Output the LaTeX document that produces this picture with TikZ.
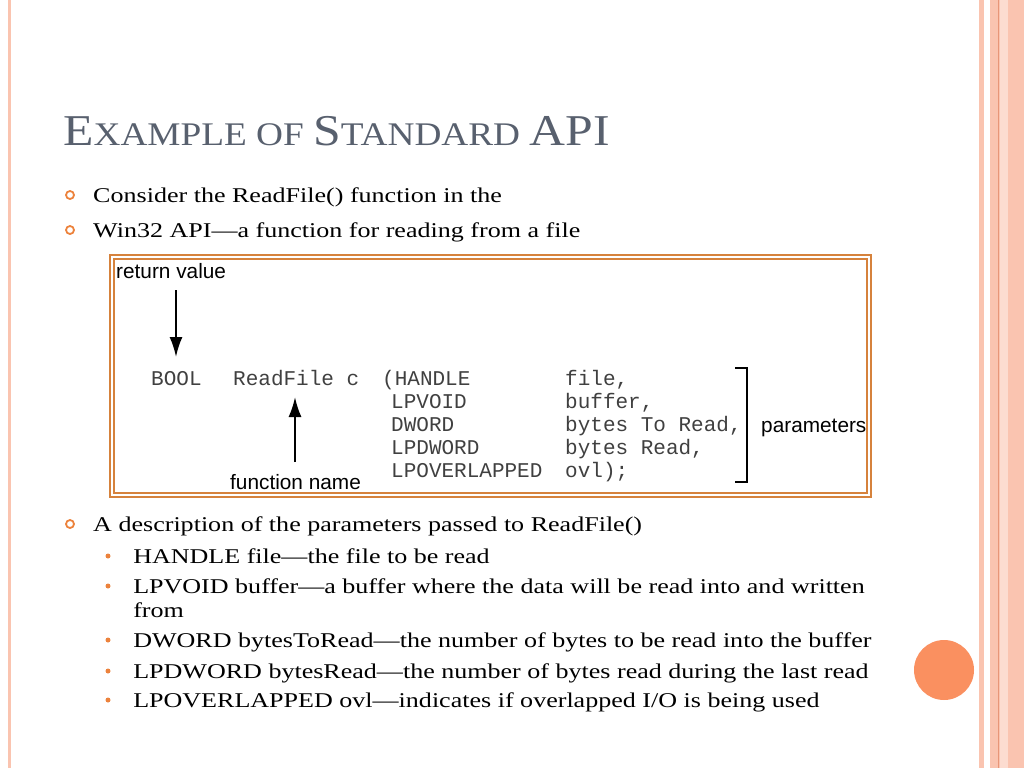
\documentclass[tikz,border=0pt]{standalone}
\usepackage{fontspec}
\usetikzlibrary{arrows.meta}
\setmainfont{Liberation Serif}
\setsansfont{Liberation Sans}
\setmonofont{Liberation Mono}
\definecolor{salmon}{RGB}{250,196,176}
\definecolor{salmondark}{RGB}{232,150,120}
\definecolor{framecol}{RGB}{214,130,60}
\definecolor{titlecol}{RGB}{88,96,110}
\definecolor{ringcol}{RGB}{236,130,60}
\definecolor{blob}{RGB}{250,144,96}
\begin{document}
\begin{tikzpicture}
    [ x=1pt, y=-1pt
    , every node/.style={inner sep=0pt, anchor=base west}
    , body/.style={font=\fontsize{21}{24}\selectfont, xscale=1.24}
    , code/.style={font=\ttfamily\fontsize{21}{24}\selectfont, text=black!75}
    , lbl/.style={font=\sffamily\fontsize{20.8}{24}\selectfont}
    , ring/.style={draw=ringcol, line width=1.8pt, circle, minimum size=8pt, anchor=center}
    , dot/.style={fill=ringcol, circle, minimum size=5pt, anchor=center}
    , arr/.style={-{Latex[length=20pt,width=13pt]}, line width=2pt}
    ]
\useasboundingbox (0,0) rectangle (1024,768);
% side stripes
\fill[salmon] (8,0) rectangle (11,768);
\fill[salmon] (979,0) rectangle (984,768);
\fill[salmon] (990,0) rectangle (1024,768);
\fill[salmon!60] (1000,0) rectangle (1008,768);
\draw[salmondark] (998.5,0) -- (998.5,768);
% title
\node[text=titlecol, xscale=1.13] (title) at (63,145)
    {\fontsize{44}{48}\selectfont E\fontsize{33}{36}\selectfont XAMPLE OF \fontsize{44}{48}\selectfont S\fontsize{33}{36}\selectfont TANDARD \fontsize{44}{48}\selectfont API};
% bullets
\node[ring] (r1) at (70,195) {};
\node[body] (b1) at (93,202) {Consider the ReadFile() function in the};
\node[ring] (r2) at (70,230) {};
\node[body] (b2) at (93,237) {Win32 API---a function for reading from a file};
\node[ring] (r3) at (70,524) {};
\node[body] (b3) at (93,531) {A description of the parameters passed to ReadFile()};
\node[dot] (d1) at (108,556) {};
\node[body] (s1) at (133,563) {HANDLE file---the file to be read};
\node[dot] (d2) at (108,586) {};
\node[body] (s2) at (133,593) {LPVOID buffer---a buffer where the data will be read into and written};
\node[body] (s2b) at (133,617) {from};
\node[dot] (d3) at (108,640) {};
\node[body] (s3) at (133,647) {DWORD bytesToRead---the number of bytes to be read into the buffer};
\node[dot] (d4) at (108,671) {};
\node[body] (s4) at (133,678) {LPDWORD bytesRead---the number of bytes read during the last read};
\node[dot] (d5) at (108,700) {};
\node[body] (s5) at (133,707) {LPOVERLAPPED ovl---indicates if overlapped I/O is being used};
% code box
\draw[framecol, line width=1.2pt] (110,255) rectangle (871,497);
\draw[framecol, line width=1.2pt] (114,259) rectangle (867,493);
\node[lbl] (ret) at (116,278) {return value};
\node[code] (bool) at (151,385) {BOOL};
\node[code] (fn) at (233,385) {ReadFile c};
\node[code] (p1) at (382,385) {(HANDLE};
\node[code] (p2) at (391,408) {LPVOID};
\node[code] (p3) at (391,431) {DWORD};
\node[code] (p4) at (391,454) {LPDWORD};
\node[code] (p5) at (391,477) {LPOVERLAPPED};
\node[code] (v1) at (565,385) {file,};
\node[code] (v2) at (565,408) {buffer,};
\node[code] (v3) at (565,431) {bytes To Read,};
\node[code] (v4) at (565,454) {bytes Read,};
\node[code] (v5) at (565,477) {ovl);};
\node[lbl] (fname) at (230,489) {function name};
\node[lbl] (params) at (761,432) {parameters};
\coordinate (rtop) at (176,290);
\coordinate (rbot) at (176,357);
\coordinate (ftop) at (295,397);
\coordinate (fbot) at (295,462);
\draw[arr] (rtop) -- (rbot);
\draw[arr] (fbot) -- (ftop);
\draw[line width=1.2pt] (735,368) -- (747,368) -- (747,482) -- (735,482);
% decoration
\fill[blob] (944,670) circle (30);
\end{tikzpicture}
\end{document}
